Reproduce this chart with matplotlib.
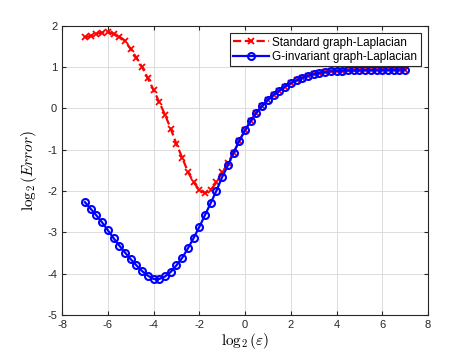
import matplotlib
matplotlib.use("Agg")
import matplotlib.pyplot as plt
import numpy as np

plt.rcParams['font.family'] = ['Liberation Sans', 'DejaVu Sans']
plt.rcParams['mathtext.fontset'] = 'cm'
plt.rcParams['axes.unicode_minus'] = False

# log2(eps) grid, step 0.25 from -7 to 7
eps = np.arange(-7, 7.01, 0.25)

# G-invariant graph-Laplacian
g_inv = [-2.27, -2.43, -2.59, -2.76, -2.95, -3.14, -3.32, -3.49, -3.65, -3.80,
         -3.94, -4.05, -4.13, -4.13, -4.07, -3.96, -3.80, -3.62, -3.39, -3.14,
         -2.87, -2.58, -2.29, -1.99, -1.66, -1.38, -1.07, -0.78, -0.53, -0.30,
         -0.10, 0.06, 0.21, 0.33, 0.43, 0.53, 0.61, 0.68, 0.74, 0.79,
         0.83, 0.86, 0.88, 0.90, 0.91, 0.915, 0.92, 0.92, 0.925, 0.93,
         0.93, 0.93, 0.935, 0.935, 0.935, 0.94, 0.94]

# Standard graph-Laplacian
standard = [1.72, 1.76, 1.81, 1.84, 1.85, 1.81, 1.74, 1.64, 1.44, 1.23,
            1.00, 0.73, 0.45, 0.15, -0.15, -0.49, -0.86, -1.19, -1.53, -1.79,
            -1.97, -2.05, -1.97, -1.79, -1.55, -1.32, -1.07, -0.78, -0.53, -0.30,
            -0.10, 0.06, 0.21, 0.33, 0.43, 0.53, 0.61, 0.68, 0.74, 0.79,
            0.83, 0.86, 0.88, 0.90, 0.91, 0.915, 0.92, 0.92, 0.925, 0.93,
            0.93, 0.93, 0.935, 0.935, 0.935, 0.94, 0.94]

fig = plt.figure(figsize=(4.74, 3.55), dpi=100)
ax = fig.add_axes([0.131, 0.113, 0.772, 0.814])

ax.plot(eps, standard, color='red', linestyle='--', linewidth=1.6,
        marker='x', markersize=4.5, markeredgewidth=1.3,
        label='Standard graph-Laplacian')
ax.plot(eps, g_inv, color='blue', linestyle='-', linewidth=1.6,
        marker='o', markersize=5, markerfacecolor='none', markeredgewidth=1.5,
        label='G-invariant graph-Laplacian')

ax.set_xlim(-8, 8)
ax.set_ylim(-5, 2)
ax.set_xticks(range(-8, 9, 2))
ax.set_yticks(range(-5, 3))
ax.grid(True, color='#dcdcdc', linewidth=0.7)
ax.set_axisbelow(True)
ax.tick_params(direction='in', top=True, right=True, labelsize=8,
               colors='#262626', length=3)
for s in ax.spines.values():
    s.set_color('#262626')
    s.set_linewidth(0.8)

ax.set_xlabel(r'$\log_2(\varepsilon)$', fontsize=11, labelpad=1)
ax.set_ylabel(r'$\log_2(Error)$', fontsize=11, labelpad=6)

leg = ax.legend(loc='upper right', fontsize=8.5, fancybox=False,
                edgecolor='#262626', framealpha=1, borderpad=0.3,
                handlelength=3, handletextpad=0.3, labelspacing=0.2,
                borderaxespad=0.6)
leg.get_frame().set_linewidth(0.8)

fig.savefig('out.png', dpi=100)
